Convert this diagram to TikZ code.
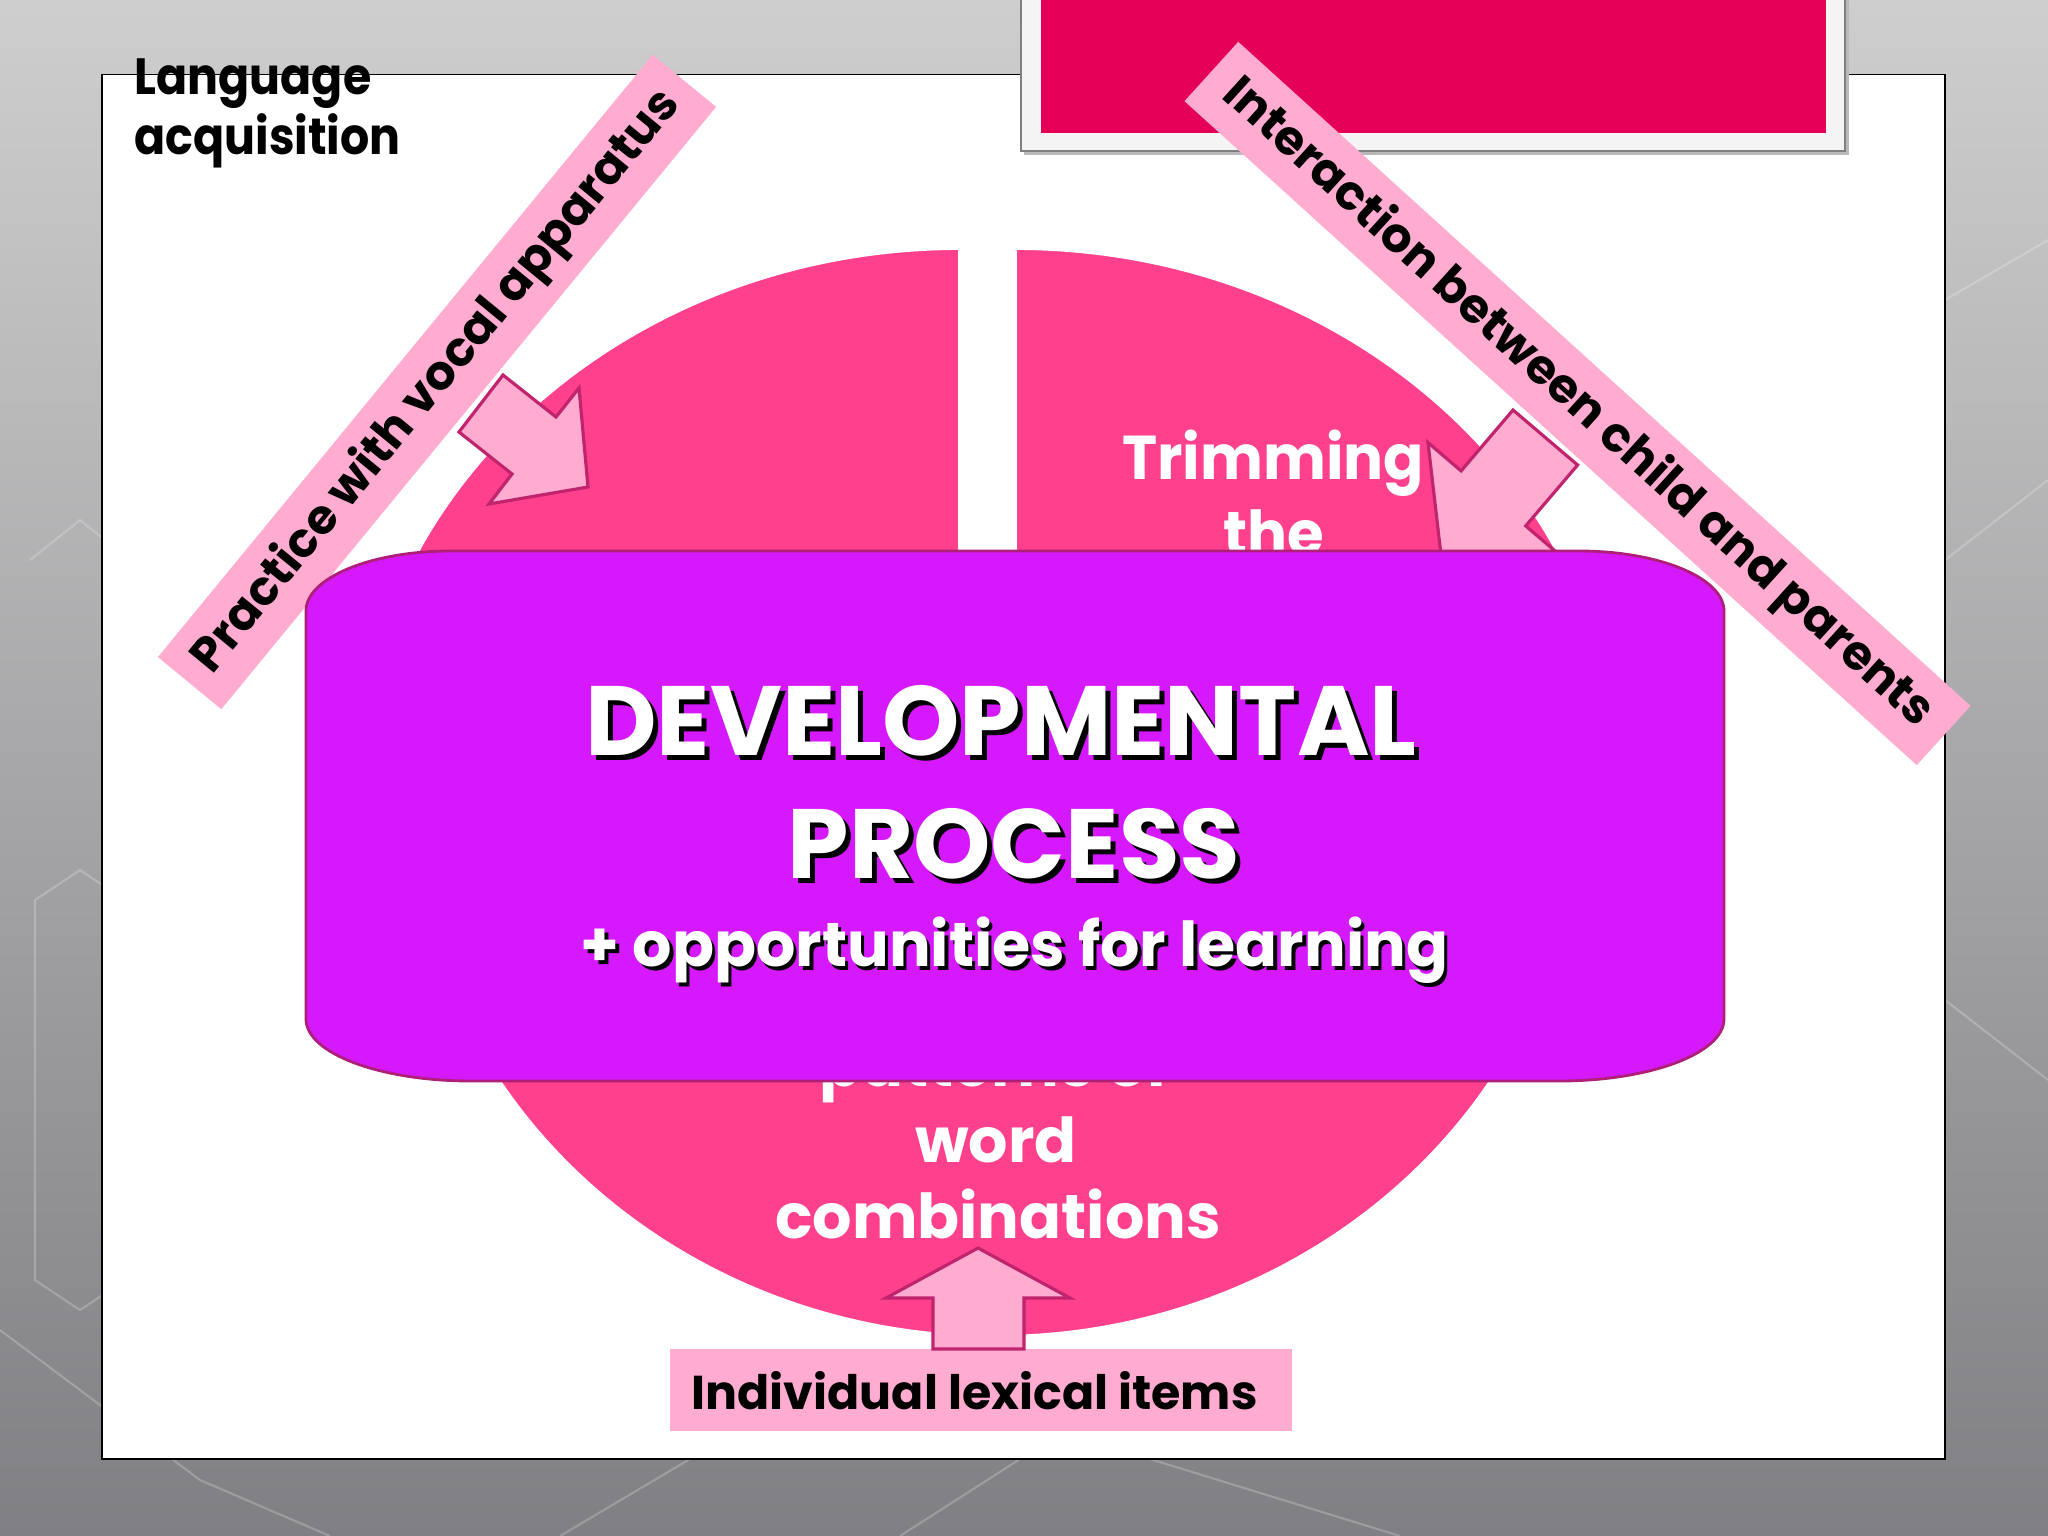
\documentclass[tikz,border=0pt]{standalone}
\usepackage{fontspec}
\setmainfont{Poppins}
\definecolor{piepink}{RGB}{255,64,140}
\definecolor{lightpink}{RGB}{255,172,208}
\definecolor{arrowline}{RGB}{192,36,110}
\definecolor{purplebox}{RGB}{213,25,252}
\definecolor{purpleline}{RGB}{175,30,120}
\definecolor{topmag}{RGB}{228,0,86}
\definecolor{bgtop}{RGB}{206,206,206}
\definecolor{bgbot}{RGB}{128,128,132}
\definecolor{framegray}{RGB}{244,244,244}
\newcommand{\myfs}[1]{\fontsize{#1pt}{#1pt}\selectfont}
\begin{document}
\begin{tikzpicture}[x=0.01cm,y=-0.01cm,
  txt/.style={inner sep=0pt, font=\bfseries},
  bannerbox/.style={fill=lightpink, inner sep=0pt, text=black, font=\bfseries\myfs{13.6}},
  blockarrow/.style={fill=lightpink, draw=arrowline, line width=0.9pt, line join=miter},
  piepiece/.style={fill=piepink, draw=white, line width=1.1pt},
  pietxt/.style={txt, text=white, anchor=base, font=\bfseries\myfs{17.6}},
  titletxt/.style={txt, anchor=base, font=\bfseries\myfs{28}},
  subtxt/.style={txt, anchor=base, font=\bfseries\myfs{17.6}},
  faint/.style={draw=white, opacity=0.22, line width=0.6pt}]
\useasboundingbox (0,0) rectangle (2048,1536);
% background
\shade[top color=bgtop, bottom color=bgbot] (0,0) rectangle (2048,1536);
\draw[faint] (30,560) -- (80,520) -- (130,560);
\draw[faint] (35,900) -- (80,870) -- (125,900) -- (125,1280) -- (80,1310) -- (35,1280) -- cycle;
\draw[faint] (0,1330) -- (200,1480) -- (330,1536);
\draw[faint] (560,1536) -- (690,1459);
\draw[faint] (900,1536) -- (1020,1459);
\draw[faint] (1150,1459) -- (1400,1536);
\draw[faint] (1945,1000) -- (2048,1080);
\draw[faint] (1945,300) -- (2048,240);
\draw[faint] (1945,560) -- (2048,480);
% white panel
\draw[fill=white, draw=black, line width=0.5pt] (102,74.5) rectangle (1945,1459);
% top magenta box
\fill[gray!55] (1024,-5) rectangle (1849,155);
\draw[fill=framegray, draw=gray, line width=0.5pt] (1021,-5) rectangle (1845,151);
\fill[topmag] (1041,-5) rectangle (1826,133);
% pie
\path[piepiece] (960,792) -- (355,792) arc[start angle=180, end angle=270, x radius=605, y radius=544] -- cycle;
\path[piepiece] (1015,792) -- (1015,248) arc[start angle=270, end angle=360, x radius=605, y radius=544] -- cycle;
\path[piepiece] (1580,792) arc[start angle=0, end angle=180, x radius=585, y radius=545] -- cycle;
\node[pietxt, xscale=0.96] (trim) at (1273,479) {Trimming};
\node[pietxt, xscale=0.96] (the) at (1274,555) {the};
\node[pietxt] (patt) at (994,1086) {patterns of};
\node[pietxt] (word) at (996,1162) {word};
\node[pietxt] (comb) at (998,1238) {combinations};
% banners
\node[bannerbox, rotate=50.6, minimum width=7.79cm, minimum height=0.82cm] (ban1) at (437,382) {Practice with vocal apparatus};
\node[bannerbox, rotate=-42.2, minimum width=9.88cm, minimum height=0.80cm] (ban2) at (1577.5,403.5) {Interaction between child and parents};
% block arrows
\draw[blockarrow] (503,375) -- (556,417) -- (579,388) -- (588,487) -- (489,504) -- (512,474) -- (459,432) -- cycle;
\draw[blockarrow] (1577.6,465) -- (1525.7,525.9) -- (1558.8,554.2) -- (1441.5,559.3) -- (1428,442.6) -- (1461.1,470.9) -- (1513,410) -- cycle;
% central purple box
\draw[fill=purplebox, draw=purpleline, line width=0.8pt]
  (451,551) -- (1579,551) arc[start angle=270, end angle=360, x radius=145, y radius=60]
  -- (1724,1019) arc[start angle=0, end angle=90, x radius=165, y radius=62]
  -- (471,1081) arc[start angle=90, end angle=180, x radius=165, y radius=62]
  -- (306,611) arc[start angle=180, end angle=270, x radius=145, y radius=60] -- cycle;
\node[titletxt, text=black] (dev-s) at (1006,760) {DEVELOPMENTAL};
\node[titletxt, text=white] (dev) at (1001,755) {DEVELOPMENTAL};
\node[titletxt, text=black] (proc-s) at (1019,883) {PROCESS};
\node[titletxt, text=white] (proc) at (1014,878) {PROCESS};
\node[subtxt, text=black] (opp-s) at (1018,970) {+ opportunities for learning};
\node[subtxt, text=white] (opp) at (1014.5,966) {+ opportunities for learning};
% bottom box and up arrow
\node[fill=lightpink, inner sep=0pt, minimum width=6.22cm, minimum height=0.82cm, anchor=north west] (lexbox) at (669,1348) {};
\node[txt, anchor=base west, font=\bfseries\myfs{13.5}] (lex) at (691,1409) {Individual lexical items};
\draw[blockarrow] (933,1349) -- (933,1298) -- (886,1298) -- (978,1248) -- (1070,1298) -- (1024,1298) -- (1024,1349) -- cycle;
% title text
\node[txt, anchor=base west, xscale=0.9, font=\bfseries\myfs{14.5}] (lang1) at (134,94.5) {Language};
\node[txt, anchor=base west, xscale=0.9, font=\bfseries\myfs{14.5}] (lang2) at (134,154) {acquisition};
\end{tikzpicture}
\end{document}
